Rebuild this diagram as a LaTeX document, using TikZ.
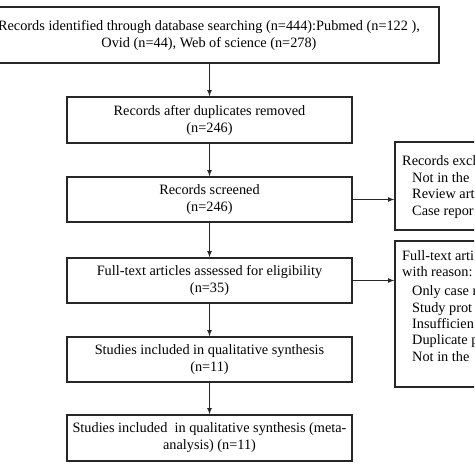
\documentclass[tikz,border=0pt]{standalone}
\usepackage{fontspec}
\setmainfont{Liberation Serif}
\usetikzlibrary{calc}

\begin{document}
\begin{tikzpicture}[x=0.03cm, y=-0.03cm,
    box/.style={draw=black!85, line width=1.2pt, align=center, inner sep=0pt,
      font=\fontsize{12.2}{14.5}\selectfont},
    reason/.style={anchor=west, align=left, inner sep=0pt,
      font=\fontsize{12.2}{14}\selectfont},
    arr/.style={-latex, line width=0.8pt, black!85}]
    \def\w{285*0.03cm}
    \def\h{45*0.03cm}
    \useasboundingbox (0,0) rectangle (474,474);
    \clip (0,0) rectangle (474,474);
    % main column
    \node[box, minimum width=460*0.03cm, minimum height=56*0.03cm] (ident) at (209,35)
      {Records identified through database searching (n=444):Pubmed (n=122 ),\\Ovid (n=44), Web of science (n=278)};
    \node[box, minimum width=\w, minimum height=46*0.03cm] (dup) at (209.5,120)
      {Records after duplicates removed\\(n=246)};
    \node[box, minimum width=\w, minimum height=\h] (screen) at (209.5,199.5)
      {Records screened\\(n=246)};
    \node[box, minimum width=\w, minimum height=\h] (full) at (209.5,280.5)
      {Full-text articles assessed for eligibility\\(n=35)};
    \node[box, minimum width=\w, minimum height=\h] (qual) at (209.5,359.5)
      {Studies included in qualitative synthesis\\(n=11)};
    \node[box, minimum width=\w, minimum height=46*0.03cm] (meta) at (209.5,438)
      {Studies included\ \ in qualitative synthesis (meta-\\analysis) (n=11)};
    % excluded boxes on the right
    \node[box, minimum width=125*0.03cm, minimum height=88*0.03cm] (excl) at (457.5,186) {};
    \node[box, minimum width=125*0.03cm, minimum height=146*0.03cm] (fexcl) at (457.5,314) {};
    \node[reason] (exclt) at (402,187)
      {Records excl\\\hspace{0.3cm}Not in the\\\hspace{0.3cm}Review art\\\hspace{0.3cm}Case repor};
    \node[reason] (fexclt) at (402,306)
      {Full-text arti\\with reason:\\[2pt]\hspace{0.3cm}Only case r\\\hspace{0.3cm}Study prot\\\hspace{0.3cm}Insufficien\\\hspace{0.3cm}Duplicate p\\\hspace{0.3cm}Not in the};
    % arrows
    \draw[arr] (ident.south -| dup.north) -- (dup.north);
    \draw[arr] (dup) -- (screen);
    \draw[arr] (screen) -- (full);
    \draw[arr] (full) -- (qual);
    \draw[arr] (qual) -- (meta);
    \draw[arr] (screen.east) -- (screen.east -| excl.west);
    \draw[arr] (full.east) -- (full.east -| fexcl.west);
\end{tikzpicture}
\end{document}
